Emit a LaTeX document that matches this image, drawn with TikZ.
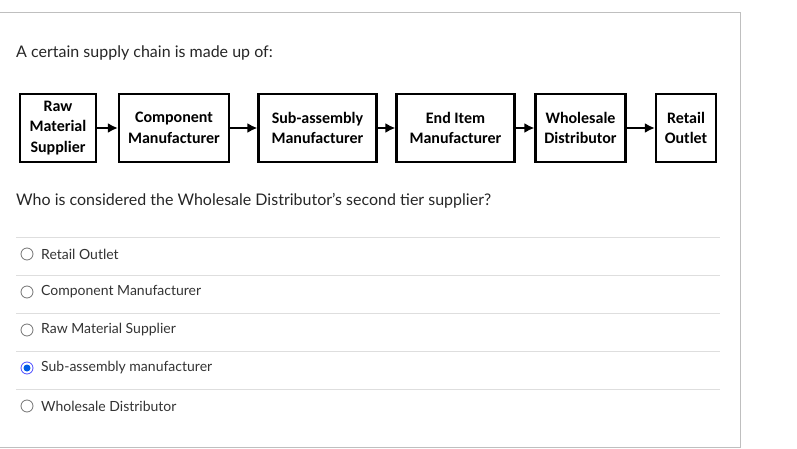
\documentclass[tikz,border=0pt]{standalone}
\usepackage{fontspec}
\setmainfont{Lato}
\newfontfamily\boxfont{Carlito}
\usetikzlibrary{arrows.meta}
\begin{document}
\begin{tikzpicture}[x=1pt,y=-1pt,
  bx/.style={draw,line width=2.2pt,align=center,font=\boxfont\bfseries\fontsize{16}{20.5}\selectfont,inner sep=0pt},
  ar/.style={-{Latex[length=10pt,width=10pt]},line width=2pt},
  sep/.style={draw=black!13,line width=0.8pt},
  opt/.style={anchor=west,font=\fontsize{14}{16}\selectfont,text=black!80,inner sep=0pt},
  rad/.style={draw=black!55,line width=0.8pt,circle,minimum size=12pt,inner sep=0pt}]
\useasboundingbox (0,0) rectangle (797,449);
\draw[black!25,line width=0.8pt] (0,12) -- (740,12) -- (740,447) -- (0,447);
\node[anchor=west,inner sep=0pt,font=\fontsize{16}{18}\selectfont,text=black!85] (t1) at (16,53) {A certain supply chain is made up of:};
\node[bx,minimum width=76,minimum height=68] (a) at (58,128) {Raw\\Material\\Supplier};
\node[bx,minimum width=110,minimum height=68] (b) at (174,128) {Component\\Manufacturer};
\node[bx,minimum width=118,minimum height=68] (c) at (317.5,128) {Sub-assembly\\Manufacturer};
\node[bx,minimum width=118,minimum height=68] (d) at (455.5,128) {End Item\\Manufacturer};
\node[bx,minimum width=90,minimum height=68] (e) at (580.5,128) {Wholesale\\Distributor};
\node[bx,minimum width=60,minimum height=68] (f) at (686,128) {Retail\\Outlet};
\draw[ar] (a) -- (b); \draw[ar] (b) -- (c); \draw[ar] (c) -- (d); \draw[ar] (d) -- (e); \draw[ar] (e) -- (f);
\node[anchor=west,inner sep=0pt,font=\fontsize{16}{18}\selectfont,text=black!85] (q) at (16,201) {Who is considered the Wholesale Distributor's second tier supplier?};
\foreach \y in {237,275,313,351,389} \draw[sep] (16,\y) -- (720,\y);
\node[rad] (r1) at (27,254) {}; \node[opt] (o1) at (41,254) {Retail Outlet};
\node[rad] (r2) at (27,292) {}; \node[opt] (o2) at (41,292) {Component Manufacturer};
\node[rad] (r3) at (27,330) {}; \node[opt] (o3) at (41,330) {Raw Material Supplier};
\node[rad,draw=blue!70] (r4) at (27,368) {}; \fill[blue!60!cyan!90!black] (r4) circle (3.5pt);
\node[opt] (o4) at (41,368) {Sub-assembly manufacturer};
\node[rad] (r5) at (27,406) {}; \node[opt] (o5) at (41,406) {Wholesale Distributor};
\end{tikzpicture}
\end{document}
